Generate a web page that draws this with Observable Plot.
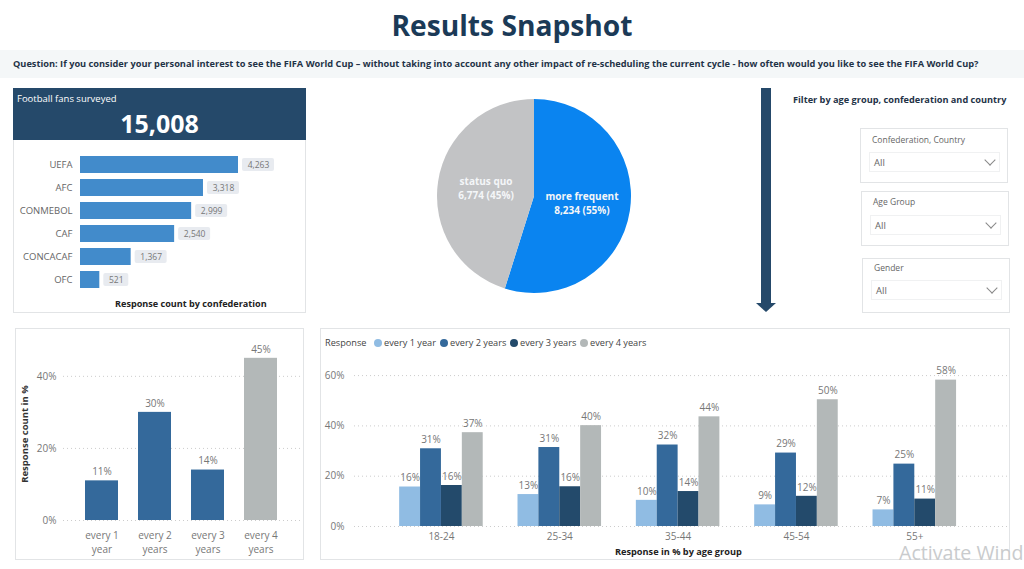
<!DOCTYPE html>
<html>
<head>
<meta charset="utf-8">
<script src="https://cdn.jsdelivr.net/npm/d3@7"></script>
<script src="https://cdn.jsdelivr.net/npm/@observablehq/plot@0.6"></script>
<style>
  html, body { margin: 0; padding: 0; background: #fff; }
  #page { position: relative; width: 1024px; height: 569px; overflow: hidden; font-family: "Open Sans", sans-serif; color: #1f3347; }
  #page > * { position: absolute; }
  #page svg { display: block; overflow: visible; }
  .card { border: 1px solid #e2e4e6; box-sizing: border-box; background: #fff; }
  .bold { font-weight: 700; white-space: nowrap; }
  #title { left: 0; width: 1024px; top: 5px; text-align: center; font-size: 28.2px; line-height: 40px; font-weight: 700; color: #1b3a57; }
  #question { left: 0; top: 50px; width: 1024px; height: 28px; line-height: 27px; background: #f4f7f8; font-size: 9.24px; padding-left: 13px; box-sizing: border-box; }
  #kpi { left: 13px; top: 88px; width: 293px; height: 52px; background: #25496a; color: #fff; }
  #kpi div { position: absolute; white-space: nowrap; }
  #arrow-shaft { left: 761px; top: 88px; width: 10px; height: 215px; background: #25496a; }
  #arrow-head { left: 756px; top: 303px; width: 0; height: 0; border-left: 10px solid transparent; border-right: 10px solid transparent; border-top: 9px solid #25496a; }
  .slicer { width: 148px; height: 55px; }
  .slicer span { position: absolute; left: 11px; top: 5px; font-size: 8.5px; color: #666; }
  .slicer .box { position: absolute; left: 8px; right: 7px; top: 23px; height: 20px; border: 1px solid #f0f1f2; font-size: 9.5px; line-height: 19px; color: #666; padding-left: 4px; box-sizing: border-box; }
  .slicer .box::after { content: ""; position: absolute; right: 5px; top: 3px; width: 7px; height: 7px; border-right: 1px solid #888; border-bottom: 1px solid #888; transform: rotate(45deg); }
  #legend { left: 325px; top: 336px; height: 14px; font-size: 9.2px; line-height: 14px; color: #444; white-space: nowrap; }
  #legend i { position: absolute; top: 3px; width: 8px; height: 8px; border-radius: 50%; }
  #legend span { position: absolute; top: 0; }
  #watermark { left: 899px; top: 544px; font-size: 19.6px; line-height: 18px; color: #c9cbcd; white-space: nowrap; }
</style>
</head>
<body>
<div id="page">
  <div id="title">Results Snapshot</div>
  <div id="question" class="bold">Question: If you consider your personal interest to see the FIFA World Cup – without taking into account any other impact of re-scheduling the current cycle - how often would you like to see the FIFA World Cup?</div>

  <div class="card" style="left:13px;top:88px;width:293px;height:225px"></div>
  <div id="kpi">
    <div style="left:4px;top:4px;font-size:9.5px">Football fans surveyed</div>
    <div class="bold" style="left:0;width:293px;top:16px;text-align:center;font-size:25px;line-height:38px">15,008</div>
  </div>
  <div id="confed-chart" style="left:13px;top:139px"></div>
  <div class="bold" style="left:115px;top:297px;font-size:9.1px;line-height:13px;color:#222">Response count by confederation</div>

  <div id="pie-chart" style="left:424px;top:86px"></div>

  <div id="arrow-shaft"></div>
  <div id="arrow-head"></div>
  <div class="bold" style="left:793px;top:93px;font-size:9.2px;line-height:13px">Filter by age group, confederation and country</div>
  <div class="card slicer" style="left:860px;top:128px"><span>Confederation, Country</span><div class="box">All</div></div>
  <div class="card slicer" style="left:861px;top:191px"><span style="top:4px">Age Group</span><div class="box">All</div></div>
  <div class="card slicer" style="left:862px;top:258px"><span style="top:3px">Gender</span><div class="box" style="top:21px">All</div></div>

  <div class="card" style="left:15px;top:328px;width:289px;height:232px"></div>
  <div id="overall-chart" style="left:15px;top:328px"></div>

  <div class="card" style="left:320px;top:328px;width:690px;height:232px"></div>
  <div id="age-grid" style="left:320px;top:328px"></div>
  <div id="age-chart" style="left:320px;top:328px"></div>
  <div id="legend"></div>
  <div class="bold" style="left:615px;top:545px;font-size:9.2px;line-height:13px;color:#222">Response in % by age group</div>

  <div id="watermark">Activate Wind</div>
</div>

<script>
// Response count by confederation
const confederations = ["UEFA", "AFC", "CONMEBOL", "CAF", "CONCACAF", "OFC"];
const confedCounts = [4263, 3318, 2999, 2540, 1367, 521];

// More frequent vs status quo
const pieLabels = ["more frequent", "status quo"];
const pieCounts = [8234, 6774];
const pieShares = [55, 45];

// Overall response share
const responses = ["every 1 year", "every 2 years", "every 3 years", "every 4 years"];
const overallShares = [11, 30, 14, 45];

// Response share by age group, one list per response
const ageGroups = ["18-24", "25-34", "35-44", "45-54", "55+"];
const every1Year = [15.7, 12.7, 10.4, 8.6, 6.6];
const every2Years = [30.9, 31.4, 32.4, 29.2, 24.8];
const every3Years = [16.3, 15.8, 13.9, 12, 10.9];
const every4Years = [37.3, 40.1, 43.6, 50.4, 58.2];
const ageSeries = [every1Year, every2Years, every3Years, every4Years];
const ageTicks = [0, 20, 40, 60];

const responseColors = ["#90bce3", "#34699b", "#234a6b", "#b3b8b8"];
const overallColors = ["#34699b", "#34699b", "#34699b", "#b3b8b8"];
const pieColors = ["#0a84f0", "#c2c3c5"];
const barBlue = "#428bcb";
const chipColor = "#e8ebf0";
const tickColor = "#777";
const font = "'Open Sans', sans-serif";
const pct = d => d3.format(".0f")(d) + "%";

function drawConfedChart() {
    const rows = confederations.map((name, i) => ({name, count: confedCounts[i]}));
    const wide = rows.filter(d => d.count >= 1000);
    const narrow = rows.filter(d => d.count < 1000);
    const plot = Plot.plot({
        width: 293,
        height: 152,
        marginLeft: 67,
        marginRight: 68,
        marginTop: 16,
        marginBottom: 3,
        style: {fontFamily: font, fontSize: "9.5px", background: "transparent"},
        x: {domain: [0, 4263], axis: null},
        y: {domain: confederations, paddingInner: 0.28, paddingOuter: 0, label: null},
        marks: [
            Plot.axisY({tickSize: 0, tickPadding: 8, color: "#666", label: null}),
            Plot.barX(rows, {x: "count", y: "name", fill: barBlue}),
            // value chips sit right behind the bar ends
            Plot.barX(wide, {
                x1: "count", x2: "count", y: "name", fill: chipColor, rx: 2,
                insetLeft: 4, insetRight: -36, insetTop: 2, insetBottom: 2,
            }),
            Plot.barX(narrow, {
                x1: "count", x2: "count", y: "name", fill: chipColor, rx: 2,
                insetLeft: 4, insetRight: -29, insetTop: 2, insetBottom: 2,
            }),
            Plot.text(wide, {
                x: "count", y: "name", text: d => d3.format(",")(d.count),
                dx: 20, fill: tickColor, fontSize: 8.5,
            }),
            Plot.text(narrow, {
                x: "count", y: "name", text: d => d3.format(",")(d.count),
                dx: 16.5, fill: tickColor, fontSize: 8.5,
            }),
        ],
    });
    document.getElementById("confed-chart").appendChild(plot);
}

function drawPie() {
    const rows = pieLabels.map((label, i) => ({label, count: pieCounts[i], share: pieShares[i], color: pieColors[i]}));
    const plot = Plot.plot({
        width: 220,
        height: 220,
        margin: 0,
        style: {background: "transparent", fontFamily: font},
        x: {axis: null},
        y: {axis: null},
        marks: [
            (index, scales, values, dimensions) => {
                const radius = 97;
                const arc = d3.arc().innerRadius(0).outerRadius(radius);
                const slices = d3.pie().sort(null).value(d => d.count)(rows);
                const g = d3.create("svg:g")
                    .attr("transform", `translate(${dimensions.width / 2},${dimensions.height / 2})`);
                g.selectAll("path").data(slices).join("path")
                    .attr("d", arc)
                    .attr("fill", d => d.data.color);
                const labels = g.selectAll("text").data(slices).join("text")
                    .attr("transform", d => `translate(${arc.centroid(d)})`)
                    .attr("text-anchor", "middle")
                    .attr("fill", "#f4f6f8")
                    .attr("font-size", 10)
                    .attr("font-weight", 700);
                labels.append("tspan").attr("x", 0).attr("y", -3.5).text(d => d.data.label);
                labels.append("tspan").attr("x", 0).attr("y", 10.5)
                    .text(d => `${d3.format(",")(d.data.count)} (${d.data.share}%)`);
                return g.node();
            },
        ],
    });
    document.getElementById("pie-chart").appendChild(plot);
}

function drawOverallChart() {
    const rows = responses.map((response, i) => ({response, share: overallShares[i], color: overallColors[i]}));
    const plot = Plot.plot({
        width: 289,
        height: 232,
        marginLeft: 48,
        marginRight: 4,
        marginTop: 19,
        marginBottom: 40,
        style: {fontFamily: font, fontSize: "10px", background: "transparent"},
        x: {domain: responses, paddingInner: 0.377, paddingOuter: 0.42, label: null},
        y: {domain: [0, 48], label: null},
        marks: [
            Plot.ruleY([0, 20, 40], {stroke: "#ccc", strokeDasharray: "1,3"}),
            Plot.axisY([0, 20, 40], {tickFormat: pct, tickSize: 0, tickPadding: 7, color: tickColor, label: null}),
            Plot.axisX({
                tickSize: 0, tickPadding: 9, lineHeight: 1.4, color: tickColor, label: null,
                tickFormat: d => d.replace(/ (years?)$/, "\n$1"),
            }),
            Plot.barY(rows, {x: "response", y: "share", fill: "color"}),
            Plot.text(rows, {x: "response", y: "share", text: d => pct(d.share), dy: -9, fill: tickColor}),
            Plot.text(["Response count in %"], {
                frameAnchor: "left", textAnchor: "middle", rotate: -90, dx: -39,
                fontWeight: 700, fontSize: 9.5, fill: "#333",
            }),
        ],
    });
    document.getElementById("overall-chart").appendChild(plot);
}

// Same y range as the faceted chart; sits under it so the grid runs through all facets
function drawAgeGrid() {
    const plot = Plot.plot({
        width: 690,
        height: 232,
        marginLeft: 34,
        marginRight: 3,
        marginTop: 32,
        marginBottom: 34,
        style: {fontFamily: font, fontSize: "10px", background: "transparent"},
        y: {domain: [0, 66], label: null},
        marks: [
            Plot.ruleY(ageTicks, {stroke: "#ccc", strokeDasharray: "1,3"}),
            Plot.axisY(ageTicks, {tickFormat: pct, tickSize: 0, tickPadding: 10, color: tickColor, label: null}),
        ],
    });
    document.getElementById("age-grid").appendChild(plot);
}

function drawAgeChart() {
    const rows = ageGroups.flatMap((age, i) =>
        responses.map((response, j) => ({age, response, share: ageSeries[j][i]}))
    );
    const plot = Plot.plot({
        width: 690,
        height: 232,
        marginLeft: 34,
        marginRight: 3,
        marginTop: 32,
        marginBottom: 34,
        style: {fontFamily: font, fontSize: "10px", background: "transparent"},
        fx: {domain: ageGroups, paddingInner: 0.294, paddingOuter: 0.406, align: 0.47, round: false, label: null, axis: null},
        x: {domain: responses, padding: 0, round: false, axis: null},
        y: {domain: [0, 66], axis: null},
        color: {domain: responses, range: responseColors},
        marks: [
            Plot.axisFx({anchor: "bottom", tickSize: 0, tickPadding: 6, color: tickColor, label: null}),
            Plot.barY(rows, {fx: "age", x: "response", y: "share", fill: "response"}),
            Plot.text(rows, {fx: "age", x: "response", y: "share", text: d => pct(d.share), dy: -9, fill: tickColor}),
        ],
    });
    document.getElementById("age-chart").appendChild(plot);
}

function drawLegend() {
    const legend = d3.select("#legend");
    legend.append("span").style("left", "0px").text("Response");
    const dotLefts = [49, 115, 185, 255];
    responses.forEach((response, i) => {
        legend.append("i").style("left", dotLefts[i] + "px").style("background", responseColors[i]);
        legend.append("span").style("left", dotLefts[i] + 10 + "px").text(response);
    });
}

drawConfedChart();
drawPie();
drawOverallChart();
drawAgeGrid();
drawAgeChart();
drawLegend();
</script>
</body>
</html>
